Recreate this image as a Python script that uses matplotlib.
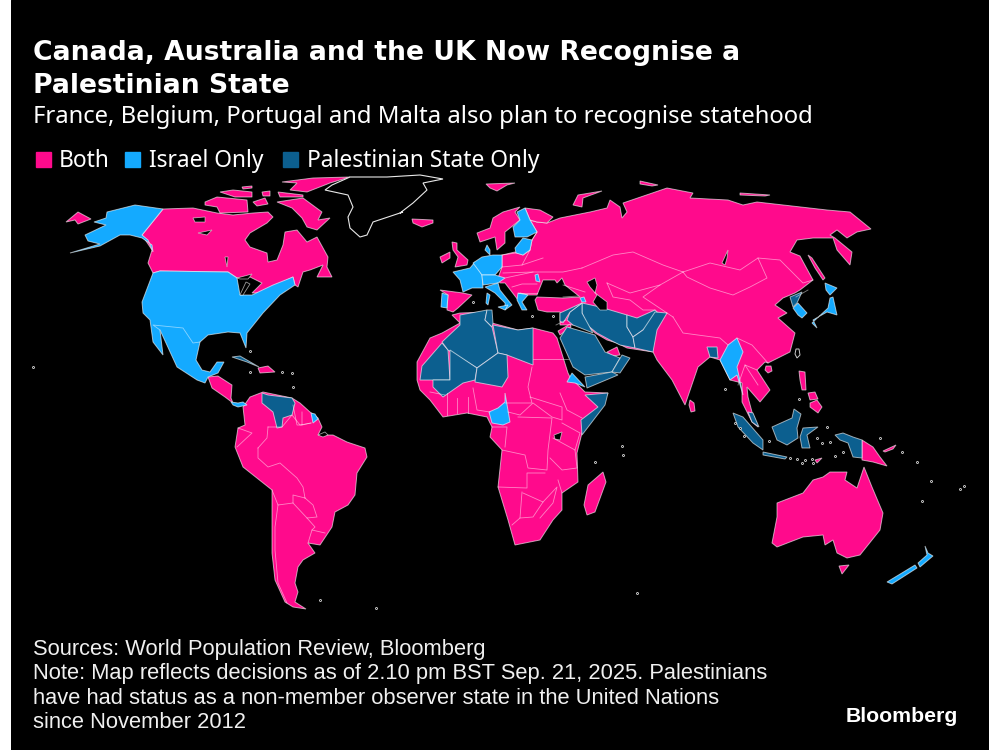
import matplotlib
matplotlib.use("Agg")
import matplotlib.pyplot as plt
from matplotlib.patches import Polygon, Rectangle

PINK = "#ff0a8c"
BLUE = "#14aaff"
DARK = "#0c5f8f"

## map outlines (map x, map y)

# both
canada = [(163,209),(193,208),(217,213),(233,215),(253,213),(268,212),(273,217),(267,223),(250,233),(245,240),(250,247),(267,253),(268,262),(277,260),(283,245),(285,232),(297,230),(307,242),(317,237),(328,257),(327,267),(332,277),(317,277),(323,265),(310,270),(303,272),(298,287),(295,285),(293,277),(277,285),(260,293),(252,293),(262,283),(250,277),(237,278),(228,272),(160,271),(153,273),(148,263),(152,250),(142,235)]
baffin = [(277,202),(303,198),(322,212),(318,220),(330,218),(317,230),(307,227),(302,218),(292,208)]
victoria = [(205,202),(217,197),(247,200),(248,212),(220,213),(217,207),(205,205)]
ellesmere = [(282,182),(313,178),(350,177),(330,183),(307,192),(290,190),(297,183)]
banks = [(220,192),(233,190),(252,192),(252,197),(235,197)]
devon = [(278,192),(303,195),(303,197),(280,197)]
somerset = [(253,202),(265,198),(268,204),(257,206)]
bathurst = [(262,192),(270,191),(270,196),(263,196)]
melville = [(242,187),(252,186),(252,188),(243,189)]
chukotka = [(66,222),(78,212),(91,219),(78,224),(75,220)]
central_america = [(208,377),(218,376),(232,385),(231,398),(233,403),(225,397),(212,388)]
hispaniola = [(258,368),(268,366),(275,372),(260,373)]
south_america = [(263,392),(292,398),(300,403),(310,412),(318,418),(322,427),(318,435),(333,435),(347,442),(365,448),(367,457),(357,473),(355,495),(348,505),(335,512),(332,527),(320,545),(308,543),(315,553),(303,560),(298,567),(295,583),(298,592),(295,602),(306,609),(293,607),(285,602),(275,580),(272,553),(272,490),(243,467),(235,447),(238,428),(245,425),(243,407),(250,397)]
africa = [(452,315),(460,323),(442,333),(430,338),(417,362),(417,380),(420,390),(430,400),(443,417),(467,413),(487,417),(492,427),(490,437),(502,450),(498,487),(508,520),(515,545),(540,540),(553,520),(562,510),(562,493),(578,482),(577,453),(582,433),(600,407),(608,393),(585,392),(570,377),(568,373),(557,338),(553,333),(533,328),(518,330),(492,323),(487,312),(460,313)]
madagascar = [(603,472),(606,482),(595,512),(587,515),(584,505),(588,485)]
eurasia = [(532,240),(537,232),(530,220),(537,222),(547,223),(560,218),(590,212),(607,208),(610,200),(620,207),(622,218),(627,212),(623,203),(667,188),(693,193),(690,198),(728,200),(743,205),(757,202),(827,210),(850,212),(871,229),(857,232),(847,238),(837,230),(830,235),(835,238),(852,252),(850,265),(837,250),(833,238),(813,238),(797,240),(790,252),(800,256),(813,280),(800,290),(795,293),(783,298),(775,305),(787,313),(778,318),(795,333),(790,352),(768,363),(765,362),(757,370),(770,390),(760,402),(747,387),(748,397),(752,412),(758,427),(752,422),(747,412),(742,402),(742,383),(730,380),(720,360),(710,357),(698,367),(685,405),(672,380),(657,360),(653,352),(627,348),(617,343),(607,340),(595,333),(587,325),(560,325),(560,312),(547,312),(538,310),(535,300),(537,297),(563,298),(580,297),(565,285),(562,278),(557,283),(555,280),(543,280),(537,295),(528,295),(520,293),(518,300),(505,283),(500,283),(498,278),(502,267),(502,255),(515,252),(523,255),(530,250)]
scandinavia = [(477,233),(480,242),(495,237),(497,250),(505,243),(505,232),(520,220),(515,212),(520,207),(503,212),(493,218),(490,228)]
kola = [(525,208),(540,210),(553,217),(547,223),(537,222),(530,220)]
spain = [(440,290),(463,293),(472,295),(458,308),(453,312),(447,310),(448,295)]
uk = [(452,242),(457,243),(457,250),(468,260),(467,265),(455,267),(458,257),(453,250)]
ireland = [(440,257),(450,252),(450,258),(442,263)]
iceland = [(412,219),(433,220),(433,223),(422,227),(413,223)]
svalbard = [(486,184),(515,183),(507,185),(497,191),(490,188)]
novaya = [(573,205),(578,195),(602,191),(583,198),(582,207)]
franz_josef = [(640,181),(658,185),(652,186),(640,184)]
severnaya = [(740,193),(770,195),(765,196),(740,195)]
sakhalin = [(808,255),(812,258),(825,278),(823,280),(815,268)]
sri_lanka = [(690,400),(694,403),(695,411),(691,412),(689,405)]
hainan = [(766,366),(771,366),(772,371),(768,373),(765,370)]
jordan = [(558,331),(570,324),(571,327),(560,335)]
uae = [(607,352),(617,347),(620,355),(612,356)]
png = [(862,440),(873,447),(880,457),(887,466),(873,462),(862,460)]
luzon = [(799,371),(805,372),(806,390),(802,390),(800,380)]
mindanao = [(810,403),(817,400),(822,407),(818,413),(810,407)]
visayas = [(808,393),(815,392),(818,399),(810,400)]
timor = [(815,460),(822,458),(817,463)]
new_britain = [(883,451),(896,445),(893,449),(885,452)]
australia = [(772,543),(777,517),(777,503),(803,493),(813,480),(823,477),(830,472),(847,472),(845,480),(857,488),(864,467),(872,487),(883,513),(880,530),(860,555),(847,558),(837,553),(833,540),(825,545),(823,535),(803,537),(777,547)]
tasmania = [(839,566),(849,565),(842,574)]

# israel only
alaska = [(163,209),(135,205),(107,212),(106,218),(94,222),(106,225),(85,235),(88,241),(100,244),(70,253),(100,246),(120,235),(130,235),(142,238),(152,245),(153,252),(148,240),(142,235)]
usa_mexico = [(160,271),(228,272),(237,278),(240,295),(252,295),(273,285),(293,277),(295,285),(280,295),(263,313),(247,333),(246,348),(240,333),(228,332),(208,335),(200,342),(196,360),(202,370),(210,372),(217,362),(224,362),(218,373),(208,377),(205,383),(197,380),(177,367),(160,330),(163,355),(153,342),(150,320),(143,313),(142,302),(153,273)]
panama = [(231,402),(238,403),(243,402),(247,405),(238,407),(233,405)]
french_guiana = [(311,413),(315,414),(318,419),(313,423)]
cameroon = [(505,393),(510,422),(503,425),(492,423),(489,412),(498,408),(505,402)]
eritrea = [(567,382),(572,373),(585,387),(575,383)]
portugal = [(442,293),(448,295),(447,308),(441,307)]
france = [(453,272),(470,268),(475,262),(482,275),(483,288),(472,288),(463,292),(460,280)]
germany = [(473,263),(482,257),(493,255),(502,255),(502,267),(495,275),(482,275)]
alps = [(482,275),(495,275),(505,278),(498,283),(483,285)]
italy = [(485,287),(498,283),(500,290),(512,305),(505,310),(505,303),(495,293)]
sicily = [(498,307),(508,305),(505,310)]
sardinia = [(487,293),(490,295),(488,305),(486,303)]
denmark = [(485,250),(487,245),(490,250),(490,255)]
finland = [(515,237),(513,227),(520,220),(517,212),(525,208),(530,220),(537,232),(527,237)]
baltics = [(515,248),(523,238),(532,240),(530,250),(523,255),(516,253)]
moldova = [(535,275),(538,274),(540,282),(536,281)]
greece = [(518,293),(528,295),(522,302),(527,310),(522,310),(517,300)]
armenia = [(580,298),(584,297),(586,302),(582,302)]
myanmar = [(737,338),(743,352),(737,367),(743,395),(737,375),(730,380),(720,360),(728,345)]
south_korea = [(793,308),(798,303),(807,313),(802,318),(798,315)]
hokkaido = [(825,283),(837,288),(830,295),(826,290)]
honshu = [(833,297),(837,315),(827,312),(813,320),(817,328),(812,323),(828,308),(830,298)]
nz_south = [(887,582),(915,565),(917,568),(892,584)]
nz_north = [(925,546),(928,553),(933,556),(920,567),(918,563),(927,555)]

# palestinian state only
venezuela = [(262,393),(268,395),(292,398),(295,403),(292,415),(283,418),(282,427),(277,428),(273,412),(262,403)]
cuba = [(232,357),(240,356),(259,367),(247,362)]
mauritania = [(442,343),(422,366),(420,380),(450,380),(448,350)]
algeria = [(487,310),(485,320),(492,327),(498,353),(477,368),(448,350),(442,342),(460,325),(460,315)]
tunisia = [(487,310),(492,310),(493,323),(492,327),(485,320)]
libya = [(493,325),(518,330),(533,328),(533,365),(507,355),(498,353)]
mali = [(450,350),(477,368),(475,380),(463,383),(443,397),(433,387),(433,380),(450,380)]
niger = [(498,353),(507,355),(508,377),(502,387),(475,382),(477,368)]
somalia = [(585,395),(608,393),(605,405),(582,435),(581,420),(598,407)]
iran = [(582,303),(600,307),(627,315),(627,327),(633,337),(635,348),(620,345),(610,340),(597,333),(587,325),(582,313)]
afghanistan = [(627,315),(637,318),(655,310),(660,315),(643,330),(633,337),(627,327)]
pakistan = [(633,337),(643,330),(655,312),(667,313),(657,330),(653,352),(635,348)]
iraq = [(582,303),(582,313),(593,333),(573,325),(567,320),(570,312)]
syria = [(560,313),(582,303),(570,312),(563,323),(560,321)]
saudi = [(560,338),(567,327),(595,335),(605,352),(620,358),(612,372),(585,375),(573,367)]
yemen = [(585,377),(612,372),(618,375),(587,388)]
oman = [(612,372),(622,355),(630,358),(620,373)]
bangladesh = [(707,347),(717,347),(718,358),(710,357)]
north_korea = [(790,297),(802,292),(797,303),(793,307)]
sumatra = [(733,413),(743,417),(763,440),(763,450),(753,443),(738,427)]
malaya = [(748,412),(753,413),(759,427),(752,422)]
java = [(763,452),(787,457),(785,459),(763,455)]
borneo = [(772,427),(792,418),(794,409),(801,414),(797,428),(798,438),(787,445),(777,440)]
sulawesi = [(803,428),(818,427),(807,435),(810,448),(802,448),(800,437)]
new_guinea_west = [(835,435),(843,433),(853,437),(862,440),(862,458),(853,457),(848,443),(840,440)]

# water on top of the land
caspian = [(587,282),(595,278),(597,285),(595,293),(607,302),(607,310),(600,310),(593,302),(597,295),(590,287)]
great_bear = [(193,218),(205,217),(205,222),(195,222)]
great_slave = [(198,233),(212,230),(207,235)]
winnipeg = [(225,257),(228,257),(227,267)]
superior = [(237,278),(252,274),(248,279),(240,279)]
michigan = [(240,295),(246,282),(250,284),(243,295)]
victoria_lake = [(554,435),(562,432),(560,440),(555,439)]
baikal = [(722,263),(728,250),(727,258),(725,265)]
amazon_mouth = [(318,435),(325,432),(328,435),(323,437)]

# black with a white line
greenland = [(350,177),(387,177),(420,175),(443,179),(423,183),(427,190),(413,203),(400,213),(403,212),(373,222),(367,235),(360,237),(350,228),(348,217),(353,207),(348,195),(325,190),(332,185)]
taiwan = [(796,349),(799,349),(800,355),(797,358),(795,354)]
islet_xs = [33,250,282,292,250,293,320,376,622,623,595,637,473,532,553,725,735,740,744,769,799,827,822,830,817,843,835,880,902,917,931,922,960,964,790,797,805,812,802,813]
islet_ys = [367,372,372,373,351,387,600,608,446,455,462,593,302,316,316,389,423,428,436,441,399,427,443,442,438,452,456,438,452,462,481,501,489,486,458,459,460,459,463,463]

# inner borders
border_lines = [
    [(160,330),(153,325),(183,328),(193,343),(200,342)],
    [(533,359),(568,359)],
    [(532,367),(528,387),(532,403),(505,403)],
    [(508,412),(520,415),(533,403),(552,417),(562,420),(562,407),(530,397)],
    [(518,417),(552,418),(548,450),(547,470),(528,468),(525,455),(502,450)],
    [(498,487),(527,488),(527,473),(545,473)],
    [(522,492),(520,518),(512,525)],
    [(523,493),(543,502),(533,517),(520,518)],
    [(543,502),(557,487),(553,503),(540,518)],
    [(558,480),(562,493)],
    [(553,438),(575,450),(577,468),(562,470),(550,458)],
    [(562,423),(580,433),(575,450)],
    [(560,393),(567,410),(582,418)],
    [(473,388),(477,410),(490,412)],
    [(457,398),(457,413)],[(468,397),(468,413)],[(447,393),(447,415)],[(430,392),(445,395)],
    [(492,427),(507,427),(505,447)],
    [(268,427),(267,438),(258,448)],
    [(238,428),(252,433),(237,447)],
    [(258,448),(258,458),(268,467),(280,463),(297,478),(303,487),(305,498)],
    [(272,490),(278,505),(293,503),(293,495),(305,498)],
    [(293,503),(307,518),(317,517),(313,505),(305,498)],
    [(278,505),(275,527),(275,550),(278,583),(287,603)],
    [(308,543),(312,530),(325,533)],
    [(307,518),(315,527),(312,530)],
    [(293,405),(297,425),(302,425),(302,412)],
    [(311,423),(302,425)],
    [(268,427),(282,427),(292,415),(300,425),(311,423)],
    [(582,268),(613,255),(633,252),(663,265),(683,272)],
    [(683,272),(710,263),(740,270),(758,258),(767,278),(750,287),(733,295),(710,288),(687,277),(683,272)],
    [(758,258),(780,260),(803,283),(813,280)],
    [(607,283),(630,293),(660,285),(683,272)],
    [(667,313),(643,297),(660,285)],
    [(607,283),(613,297),(630,300),(643,310),(655,310)],
    [(673,317),(683,333),(720,338),(728,345)],
    [(667,313),(673,317)],
    [(737,338),(752,345),(768,363)],
    [(738,385),(745,365),(757,370)],
    [(745,365),(758,385)],
    [(502,255),(516,253)],
    [(502,267),(522,265),(543,258)],
    [(522,265),(530,250)],
    [(503,273),(533,272),(563,272),(582,268)],
    [(512,287),(522,284),(537,284)],
    [(505,278),(533,272)],
    [(518,293),(537,293)],
    [(537,232),(532,240)],
    [(563,297),(578,296)],
    [(563,285),(585,292)],
    [(796,297),(808,290)],
    [(556,325),(566,320)],
]

lands = {
    PINK: [canada, baffin, victoria, ellesmere, banks, devon, somerset, bathurst, melville, chukotka,
           central_america, hispaniola, south_america, africa, madagascar, eurasia, scandinavia, kola, spain,
           uk, ireland, iceland, svalbard, novaya, franz_josef, severnaya, sakhalin, sri_lanka, hainan,
           jordan, uae, png, luzon, mindanao, visayas, timor, new_britain, australia, tasmania],
    BLUE: [alaska, usa_mexico, panama, french_guiana, cameroon, eritrea, portugal, france, germany, alps,
           italy, sicily, sardinia, denmark, finland, baltics, moldova, greece, armenia, myanmar,
           south_korea, hokkaido, honshu, nz_south, nz_north],
    DARK: [venezuela, cuba, mauritania, algeria, tunisia, libya, mali, niger, somalia, iran, afghanistan,
           pakistan, iraq, syria, saudi, yemen, oman, bangladesh, north_korea, sumatra, malaya, java,
           borneo, sulawesi, new_guinea_west],
}
water = [caspian, great_bear, great_slave, winnipeg, superior, michigan, victoria_lake, baikal, amazon_mouth]

legend_labels = ["Both", "Israel Only", "Palestinian State Only"]
legend_colors = [PINK, BLUE, DARK]
legend_box_x = [36, 125, 283]
legend_text_x = [59, 149, 307]

title_lines = ["Canada, Australia and the UK Now Recognise a", "Palestinian State"]
subtitle = "France, Belgium, Portugal and Malta also plan to recognise statehood"
foot_lines = ["Sources: World Population Review, Bloomberg",
              "Note: Map reflects decisions as of 2.10 pm BST Sep. 21, 2025. Palestinians",
              "have had status as a non-member observer state in the United Nations",
              "since November 2012"]

fig = plt.figure(figsize=(10, 7.5), dpi=100, facecolor="white")
ax = fig.add_axes([0.0105, 0, 0.9785, 1], facecolor="black")
ax.set_xlim(10.5, 989)
ax.set_ylim(750, 0)
ax.axis("off")
ax.add_patch(Rectangle((10.5, 0), 978.5, 750, color="black", zorder=0))

for color, shapes in lands.items():
    for shape in shapes:
        ax.add_patch(Polygon(shape, closed=True, facecolor=color, edgecolor=(1, 1, 1, 0.6), linewidth=0.7, zorder=2))
for lake in water:
    ax.add_patch(Polygon(lake, closed=True, facecolor="black", edgecolor=(1, 1, 1, 0.6), linewidth=0.6, zorder=3))
ax.add_patch(Polygon(greenland, closed=True, facecolor="black", edgecolor="#e8e8e8", linewidth=0.8, zorder=3))
ax.add_patch(Polygon(taiwan, closed=True, facecolor="black", edgecolor="#cccccc", linewidth=0.7, zorder=3))
ax.scatter(islet_xs, islet_ys, s=2, facecolor="black", edgecolor="#dddddd", linewidth=0.6, zorder=3)
for line in border_lines:
    ax.plot([p[0] for p in line], [p[1] for p in line], color=(1, 1, 1, 0.5), linewidth=0.6, zorder=4)

for i, line in enumerate(title_lines):
    ax.text(33, 60 + i * 33, line, color="white", fontsize=19.15, fontweight="bold", family="DejaVu Sans", va="baseline")
ax.text(33, 123, subtitle, color="white", fontsize=17.2, family="Noto Sans", va="baseline")

for x, tx, c, label in zip(legend_box_x, legend_text_x, legend_colors, legend_labels):
    ax.add_patch(Rectangle((x, 152), 15, 15, color=c, zorder=5))
    ax.text(tx, 167, label, color="white", fontsize=16.4, family="Noto Sans", va="baseline")

for i, line in enumerate(foot_lines):
    ax.text(33, 655 + i * 24.3, line, color="#f0f0f0", fontsize=15.75, family="Liberation Sans", va="baseline")
ax.text(958, 722, "Bloomberg", color="white", fontsize=15.3, fontweight="bold", family="Liberation Sans", ha="right", va="baseline")

fig.savefig("out.png", dpi=100, facecolor="white")
